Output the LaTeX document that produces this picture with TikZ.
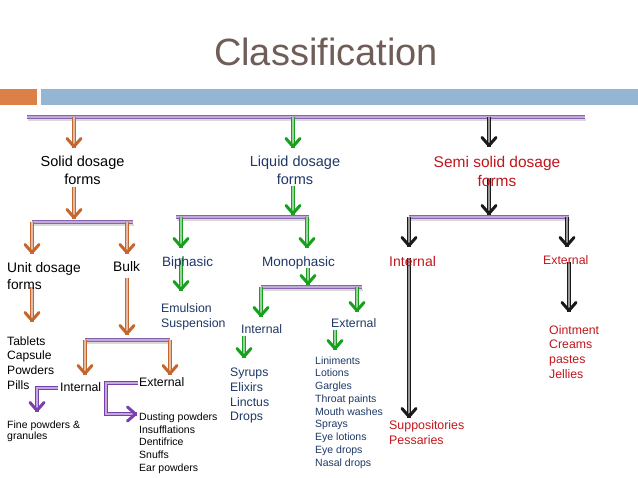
\documentclass[tikz,border=0pt]{standalone}
\usepackage{fontspec}
\setmainfont{Liberation Sans}
\usetikzlibrary{arrows.meta,calc}
\definecolor{ttl}{HTML}{6F5D57}
\definecolor{orn}{HTML}{C4662E}
\definecolor{grn}{HTML}{16A01C}
\definecolor{blk}{HTML}{1A1A1A}
\definecolor{pur}{HTML}{7A3FAE}
\definecolor{barp}{HTML}{8A62B2}
\definecolor{navy}{HTML}{1F3867}
\definecolor{rd}{HTML}{C3161C}
\definecolor{barblue}{HTML}{94B6D2}
\definecolor{barorange}{HTML}{DD8047}
\newcommand{\fs}[2]{\fontsize{#1}{#2}\selectfont}
\newcommand{\arr}[3]{\draw[shaft=#1] (#2) -- (#3); \draw[tiphd=#1] ($(#2)!0.97!(#3)$) -- (#3);}
\begin{document}
\begin{tikzpicture}[x=1pt,y=-1pt,
 shaft/.style={draw=#1, line width=1pt, double=#1!45, double distance=1.2pt},
 tiphd/.style={draw=#1, line width=0.2pt, -{Straight Barb[length=8pt,width=14pt,line width=3pt,round]}},
 pbar/.style={draw=barp, line width=1.5pt, double=barp!55, double distance=1.3pt},
 shadow/.style={draw=black!15, line width=1.2pt},
 lbl/.style={inner sep=0pt, anchor=north west, align=left},
 ctr/.style={inner sep=0pt, anchor=north, align=center},
 one/.style={inner sep=0pt, anchor=base west},
]
\useasboundingbox (0,0) rectangle (638,478);
\fill[white] (0,0) rectangle (638,478);
% header
\node[inner sep=0pt, anchor=base, text=ttl, font=\fs{38}{42}] (title) at (326,66) {Classification};
\fill[barorange] (0,89) rectangle (37,105);
\fill[barblue] (41,89) rectangle (638,105);

% coordinates
\coordinate (topL) at (27,117); \coordinate (topR) at (585,117);
\coordinate (s0) at (74,117); \coordinate (s0e) at (74,148);
\coordinate (s1) at (74,187); \coordinate (s1e) at (74,219);
\coordinate (sbL) at (32,222); \coordinate (sbR) at (133,222);
\coordinate (sbl) at (32,222); \coordinate (sble) at (32,254);
\coordinate (sbr) at (127,222); \coordinate (sbre) at (127,254);
\coordinate (u0) at (32,287); \coordinate (u0e) at (32,322);
\coordinate (b0) at (127,278); \coordinate (b0e) at (127,335);
\coordinate (bbL) at (85,340); \coordinate (bbR) at (170,340);
\coordinate (bl) at (85,340); \coordinate (ble) at (85,375);
\coordinate (br) at (170,340); \coordinate (bre) at (170,375);
\coordinate (pi0) at (58,388); \coordinate (pi1) at (37,388); \coordinate (pi2) at (37,412);
\coordinate (pe0) at (138,383); \coordinate (pe1) at (106,383); \coordinate (pe2) at (106,414); \coordinate (pe3) at (137,414);

\coordinate (l0) at (293,117); \coordinate (l0e) at (293,148);
\coordinate (l1) at (293,186); \coordinate (l1e) at (293,215);
\coordinate (lbL) at (176,217); \coordinate (lbR) at (309,217);
\coordinate (lb1) at (181,217); \coordinate (lb1e) at (181,248);
\coordinate (lb2) at (307,217); \coordinate (lb2e) at (307,248);
\coordinate (bi0) at (181,258); \coordinate (bi0e) at (181,291);
\coordinate (mo0) at (308,268); \coordinate (mo0e) at (308,285);
\coordinate (mbL) at (261,287); \coordinate (mbR) at (362,287);
\coordinate (mb1) at (261,287); \coordinate (mb1e) at (261,317);
\coordinate (mb2) at (357,287); \coordinate (mb2e) at (357,312);
\coordinate (li0) at (244,336); \coordinate (li0e) at (244,358);
\coordinate (le0) at (335,330); \coordinate (le0e) at (335,350);

\coordinate (m0) at (489,117); \coordinate (m0e) at (489,147);
\coordinate (m1) at (489,178); \coordinate (m1e) at (489,215);
\coordinate (smL) at (409,217); \coordinate (smR) at (569,217);
\coordinate (sm1) at (409,217); \coordinate (sm1e) at (409,247);
\coordinate (sm2) at (567,217); \coordinate (sm2e) at (567,247);
\coordinate (si0) at (409,258); \coordinate (si0e) at (409,418);
\coordinate (se0) at (569,262); \coordinate (se0e) at (569,312);

% bars
\foreach \a/\b in {topL/topR, sbL/sbR, bbL/bbR, lbL/lbR, mbL/mbR, smL/smR}{
  \draw[shadow] ($(\a)+(1,3)$) -- ($(\b)+(1,3)$);
  \draw[pbar] (\a) -- (\b);
}

% solid arrows
\arr{orn}{s0}{s0e}
\arr{orn}{s1}{s1e}
\arr{orn}{sbl}{sble}
\arr{orn}{sbr}{sbre}
\arr{orn}{u0}{u0e}
\arr{orn}{b0}{b0e}
\arr{orn}{bl}{ble}
\arr{orn}{br}{bre}
\draw[shaft=pur] (pi0) -- (pi1) -- (pi2);
\draw[tiphd=pur] ($(pi1)!0.97!(pi2)$) -- (pi2);
\draw[shaft=pur] (pe0) -- (pe1) -- (pe2) -- (pe3);
\draw[tiphd=pur] ($(pe2)!0.97!(pe3)$) -- (pe3);

% liquid arrows
\arr{grn}{l0}{l0e}
\arr{grn}{l1}{l1e}
\arr{grn}{lb1}{lb1e}
\arr{grn}{lb2}{lb2e}
\arr{grn}{bi0}{bi0e}
\arr{grn}{mo0}{mo0e}
\arr{grn}{mb1}{mb1e}
\arr{grn}{mb2}{mb2e}
\arr{grn}{li0}{li0e}
\arr{grn}{le0}{le0e}

% semi solid arrows
\arr{blk}{m0}{m0e}
\arr{blk}{m1}{m1e}
\arr{blk}{sm1}{sm1e}
\arr{blk}{sm2}{sm2e}
\arr{blk}{si0}{si0e}
\arr{blk}{se0}{se0e}

% solid texts
\node[ctr, font=\fs{14.5}{18}] (solid) at (82.5,155.6) {Solid dosage\\forms};
\node[lbl, font=\fs{13.8}{17}] (unit) at (7,262.1) {Unit dosage\\forms};
\node[one, font=\fs{13.8}{17}] (bulk) at (113,272) {Bulk};
\node[lbl, font=\fs{12.1}{14.7}] (tabs) at (7,336.3) {Tablets\\Capsule\\Powders\\Pills};
\node[one, font=\fs{12.3}{15}] (sint) at (60,392) {Internal};
\node[one, font=\fs{12.3}{15}] (sext) at (139,387) {External};
\node[lbl, font=\fs{10.5}{11.5}] (fine) at (7,420.4) {Fine powders \&\\granules};
\node[lbl, font=\fs{10.5}{12.8}] (dust) at (139,412.4) {Dusting powders\\Insufflations\\Dentifrice\\Snuffs\\Ear powders};

% liquid texts
\node[ctr, font=\fs{14.5}{18}, text=navy] (liquid) at (295,155.6) {Liquid dosage\\forms};
\node[one, font=\fs{13.5}{16}, text=navy] (biph) at (162,267) {Biphasic};
\node[one, font=\fs{13.5}{16}, text=navy] (monoph) at (262,267) {Monophasic};
\node[lbl, font=\fs{12.3}{15}, text=navy] (emul) at (161,303.1) {Emulsion\\Suspension};
\node[one, font=\fs{12.3}{15}, text=navy] (lint) at (241,334) {Internal};
\node[one, font=\fs{12.3}{15}, text=navy] (lext) at (331,328) {External};
\node[lbl, font=\fs{12.3}{14.7}, text=navy] (syr) at (230,368.1) {Syrups\\Elixirs\\Linctus\\Drops};
\node[lbl, font=\fs{10.5}{12.75}, text=navy] (lin) at (315,356.4) {Liniments\\Lotions\\Gargles\\Throat paints\\Mouth washes\\Sprays\\Eye lotions\\Eye drops\\Nasal drops};

% semi solid texts
\node[ctr, font=\fs{15.5}{19}, text=rd] (semi) at (497,155.8) {Semi solid dosage\\forms};
\node[one, font=\fs{14}{16}, text=rd] (mint) at (389,267) {Internal};
\node[one, font=\fs{12.3}{15}, text=rd] (mext) at (543,265) {External};
\node[lbl, font=\fs{12.4}{15}, text=rd] (supp) at (389,420.1) {Suppositories\\Pessaries};
\node[lbl, font=\fs{12.3}{14.7}, text=rd] (oint) at (549,325.1) {Ointment\\Creams\\pastes\\Jellies};
\end{tikzpicture}
\end{document}
